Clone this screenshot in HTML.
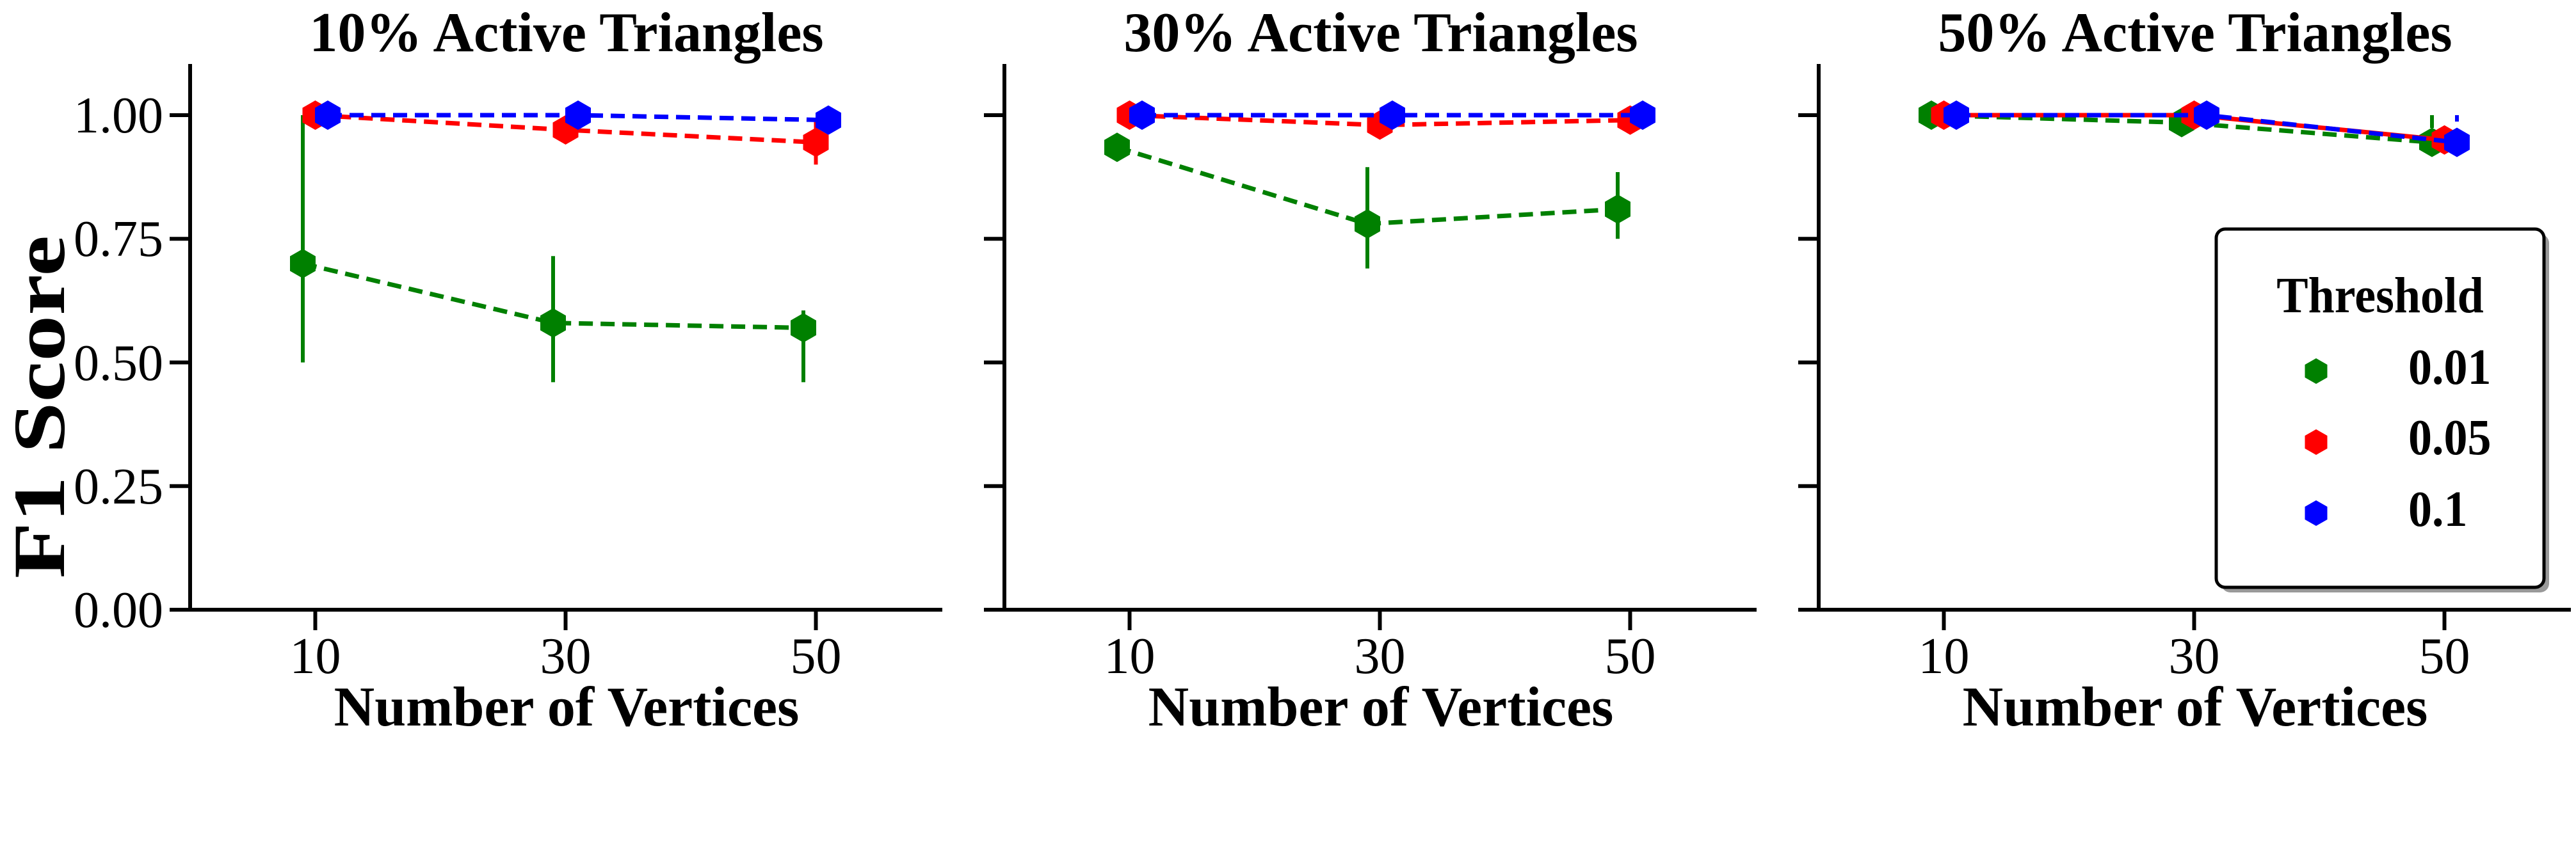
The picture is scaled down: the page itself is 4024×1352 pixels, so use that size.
<!DOCTYPE html>
<html><head><meta charset="utf-8"><style>html,body{margin:0;padding:0;background:#fff}svg{display:block}</style></head>
<body>
<svg width="4024" height="1352" viewBox="0 0 4024 1352" xmlns="http://www.w3.org/2000/svg" font-family="'Liberation Serif', serif">
<defs>
<path id="h" d="M0,-23 L20,-11.5 L20,11.5 L0,23 L-20,11.5 L-20,-11.5 Z"/>
<path id="hl" d="M0,-20 L17.5,-10 L17.5,10 L0,20 L-17.5,10 L-17.5,-10 Z"/>
</defs>
<rect width="4024" height="1352" fill="#fff"/>

<text transform="translate(100,636) rotate(-90) scale(1.25,1)" font-size="115" font-weight="bold" text-anchor="middle">F1 Score</text>

<!-- Panel 1 -->
<g transform="translate(297,0)">
<g stroke="#000" stroke-width="6" fill="none">
<line x1="0" y1="100" x2="0" y2="956"/>
<line x1="-3" y1="953" x2="1175" y2="953"/>
<line x1="-32" y1="953" x2="0" y2="953"/><line x1="-32" y1="759.75" x2="0" y2="759.75"/><line x1="-32" y1="566.5" x2="0" y2="566.5"/><line x1="-32" y1="373.25" x2="0" y2="373.25"/><line x1="-32" y1="180" x2="0" y2="180"/>
<line x1="195.5" y1="953" x2="195.5" y2="985"/><line x1="586.5" y1="953" x2="586.5" y2="985"/><line x1="977.5" y1="953" x2="977.5" y2="985"/>
</g>
<g font-size="80" text-anchor="end">
<text x="-42" y="980">0.00</text><text x="-42" y="787">0.25</text><text x="-42" y="594">0.50</text><text x="-42" y="400">0.75</text><text x="-42" y="207">1.00</text>
</g>
<g font-size="80" text-anchor="middle">
<text x="195.5" y="1052">10</text><text x="586.5" y="1052">30</text><text x="977.5" y="1052">50</text>
</g>
<text x="588" y="1134" font-size="88" font-weight="bold" text-anchor="middle">Number of Vertices</text>
<text x="588" y="80" font-size="88" font-weight="bold" text-anchor="middle">10% Active Triangles</text>
<g stroke="green" stroke-width="6" fill="none">
<line x1="176" y1="566.5" x2="176" y2="180"/><line x1="567" y1="597.4" x2="567" y2="400.3"/><line x1="958" y1="597.4" x2="958" y2="485.3"/>
<polyline points="176,412 567,504.7 958,512.4" stroke-width="7" stroke-dasharray="22,12"/>
</g>
<g fill="green"><use href="#h" x="176" y="412"/><use href="#h" x="567" y="504.7"/><use href="#h" x="958" y="512.4"/></g>
<g stroke="red" stroke-width="6" fill="none">
<line x1="977.5" y1="257.3" x2="977.5" y2="187.7"/>
<polyline points="195.5,180 586.5,203 977.5,222.5" stroke-width="7" stroke-dasharray="22,12"/>
</g>
<g fill="red"><use href="#h" x="195.5" y="180"/><use href="#h" x="586.5" y="203"/><use href="#h" x="977.5" y="222.5"/></g>
<g stroke="blue" stroke-width="7" fill="none">
<polyline points="215,180 606,180 997,187.7" stroke-dasharray="22,12"/>
</g>
<g fill="blue"><use href="#h" x="215" y="180"/><use href="#h" x="606" y="180"/><use href="#h" x="997" y="187.7"/></g>
</g>

<!-- Panel 2 -->
<g transform="translate(1569,0)">
<g stroke="#000" stroke-width="6" fill="none">
<line x1="0" y1="100" x2="0" y2="956"/>
<line x1="-3" y1="953" x2="1175" y2="953"/>
<line x1="-32" y1="953" x2="0" y2="953"/><line x1="-32" y1="759.75" x2="0" y2="759.75"/><line x1="-32" y1="566.5" x2="0" y2="566.5"/><line x1="-32" y1="373.25" x2="0" y2="373.25"/><line x1="-32" y1="180" x2="0" y2="180"/>
<line x1="195.5" y1="953" x2="195.5" y2="985"/><line x1="586.5" y1="953" x2="586.5" y2="985"/><line x1="977.5" y1="953" x2="977.5" y2="985"/>
</g>
<g font-size="80" text-anchor="middle">
<text x="195.5" y="1052">10</text><text x="586.5" y="1052">30</text><text x="977.5" y="1052">50</text>
</g>
<text x="588" y="1134" font-size="88" font-weight="bold" text-anchor="middle">Number of Vertices</text>
<text x="588" y="80" font-size="88" font-weight="bold" text-anchor="middle">30% Active Triangles</text>
<g stroke="green" stroke-width="6" fill="none">
<line x1="567" y1="419.6" x2="567" y2="261.2"/><line x1="958" y1="373.25" x2="958" y2="269"/>
<polyline points="176,230.3 567,350 958,326.9" stroke-width="7" stroke-dasharray="22,12"/>
</g>
<g fill="green"><use href="#h" x="176" y="230.3"/><use href="#h" x="567" y="350"/><use href="#h" x="958" y="326.9"/></g>
<g stroke="red" stroke-width="7" fill="none">
<polyline points="195.5,180 586.5,195.5 977.5,187.7" stroke-dasharray="22,12"/>
</g>
<g fill="red"><use href="#h" x="195.5" y="180"/><use href="#h" x="586.5" y="195.5"/><use href="#h" x="977.5" y="187.7"/></g>
<g stroke="blue" stroke-width="7" fill="none">
<polyline points="215,180 606,180 997,180" stroke-dasharray="22,12"/>
</g>
<g fill="blue"><use href="#h" x="215" y="180"/><use href="#h" x="606" y="180"/><use href="#h" x="997" y="180"/></g>
</g>

<!-- Panel 3 -->
<g transform="translate(2841,0)">
<g stroke="#000" stroke-width="6" fill="none">
<line x1="0" y1="100" x2="0" y2="956"/>
<line x1="-3" y1="953" x2="1175" y2="953"/>
<line x1="-32" y1="953" x2="0" y2="953"/><line x1="-32" y1="759.75" x2="0" y2="759.75"/><line x1="-32" y1="566.5" x2="0" y2="566.5"/><line x1="-32" y1="373.25" x2="0" y2="373.25"/><line x1="-32" y1="180" x2="0" y2="180"/>
<line x1="195.5" y1="953" x2="195.5" y2="985"/><line x1="586.5" y1="953" x2="586.5" y2="985"/><line x1="977.5" y1="953" x2="977.5" y2="985"/>
</g>
<g font-size="80" text-anchor="middle">
<text x="195.5" y="1052">10</text><text x="586.5" y="1052">30</text><text x="977.5" y="1052">50</text>
</g>
<text x="588" y="1134" font-size="88" font-weight="bold" text-anchor="middle">Number of Vertices</text>
<text x="588" y="80" font-size="88" font-weight="bold" text-anchor="middle">50% Active Triangles</text>
<g stroke="green" stroke-width="6" fill="none">
<line x1="958" y1="180" x2="958" y2="200"/>
<polyline points="176,180 567,191.6 958,222.5" stroke-width="7" stroke-dasharray="22,12"/>
</g>
<g fill="green"><use href="#h" x="176" y="180"/><use href="#h" x="567" y="191.6"/><use href="#h" x="958" y="222.5"/></g>
<g stroke="red" stroke-width="7" fill="none">
<polyline points="195.5,180 586.5,180 977.5,218.7"/>
</g>
<g fill="red"><use href="#h" x="195.5" y="180"/><use href="#h" x="586.5" y="180"/><use href="#h" x="977.5" y="218.7"/></g>
<g stroke="blue" stroke-width="6" fill="none">
<line x1="997" y1="180" x2="997" y2="190"/>
<polyline points="215,180 606,180 997,222.5" stroke-width="7" stroke-dasharray="22,12"/>
</g>
<g fill="blue"><use href="#h" x="215" y="180"/><use href="#h" x="606" y="180"/><use href="#h" x="997" y="222.5"/></g>
</g>

<!-- Legend -->
<rect x="3470" y="366" width="512" height="560" rx="14" fill="#999"/>
<rect x="3462" y="358" width="512" height="560" rx="14" fill="#fff" stroke="#000" stroke-width="5"/>
<text transform="translate(3718,488) scale(1,1.08)" font-size="74" font-weight="bold" text-anchor="middle">Threshold</text>
<use href="#hl" x="3618" y="580" fill="green"/>
<use href="#hl" x="3618" y="691" fill="red"/>
<use href="#hl" x="3618" y="802" fill="blue"/>
<g font-size="74" font-weight="bold">
<text transform="translate(3762,600) scale(1,1.08)">0.01</text>
<text transform="translate(3762,710) scale(1,1.08)">0.05</text>
<text transform="translate(3762,822) scale(1,1.08)">0.1</text>
</g>
</svg>
</body></html>
